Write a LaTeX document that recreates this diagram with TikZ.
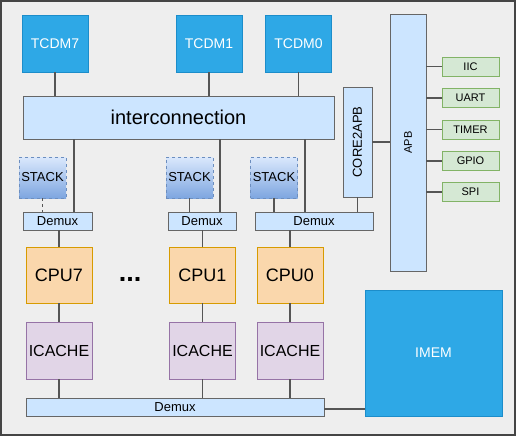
\documentclass[tikz,border=0pt]{standalone}
\usepackage{fontspec}
\setmainfont{Liberation Sans}
\usepackage{tikz}
\usetikzlibrary{calc}
\definecolor{bgray}{HTML}{EEEEEE}
\definecolor{frame}{HTML}{444444}
\definecolor{wire}{HTML}{555555}
\definecolor{memfill}{HTML}{2EA8E6}
\definecolor{memline}{HTML}{1C8DCA}
\definecolor{busfill}{HTML}{CCE5FF}
\definecolor{busline}{HTML}{666666}
\definecolor{cpufill}{HTML}{FAD7AC}
\definecolor{cpuline}{HTML}{D79B00}
\definecolor{icfill}{HTML}{E1D5E7}
\definecolor{icline}{HTML}{9673A6}
\definecolor{perfill}{HTML}{D5E8D4}
\definecolor{perline}{HTML}{82B366}
\definecolor{stktop}{HTML}{DAE8FC}
\definecolor{stkbot}{HTML}{7EA6E0}
\definecolor{stkline}{HTML}{6C8EBF}
\newcommand{\fsz}[1]{\fontsize{#1}{#1}\selectfont}

\begin{document}
\begin{tikzpicture}[x=1pt,y=-1pt,
    box/.style={draw,rectangle,inner sep=0pt,line width=0.8pt},
    mem/.style={box,fill=memfill,draw=memline,text=white,minimum width=66pt,minimum height=57pt,font=\fsz{14}},
    bus/.style={box,fill=busfill,draw=busline},
    demux/.style={bus,minimum height=18pt,font=\fsz{13}},
    stack/.style={box,top color=stktop,bottom color=stkbot,draw=stkline,dashed,minimum width=47pt,minimum height=41pt,font=\fsz{13}},
    cpu/.style={box,fill=cpufill,draw=cpuline,minimum width=66pt,minimum height=56pt,font=\fsz{18}},
    icache/.style={box,fill=icfill,draw=icline,minimum width=66pt,minimum height=57pt,font=\fsz{16}},
    periph/.style={box,fill=perfill,draw=perline,minimum width=57pt,minimum height=19pt,font=\fsz{11}},
    wire/.style={draw=wire,line width=1.1pt}]
  \useasboundingbox (0,0) rectangle (516,436);
  \draw[frame,fill=bgray,line width=1.2pt] (1,1) rectangle (515,435);

  % memories and interconnect
  \node[mem] (tcdm7) at (55,43.5) {TCDM7};
  \node[mem] (tcdm1) at (209,43.5) {TCDM1};
  \node[mem] (tcdm0) at (298.5,43.5) {TCDM0};
  \node[bus,minimum width=311pt,minimum height=43pt,font=\fsz{20}] (ic) at (178.5,117.5) {interconnection};

  % stacks and demuxes
  \node[stack] (stack7) at (42.5,177.5) {STACK};
  \node[stack] (stack1) at (189.5,177.5) {STACK};
  \node[stack] (stack0) at (274,177.5) {STACK};
  \node[demux,minimum width=69pt] (dmx7) at (57.5,221) {Demux};
  \node[demux,minimum width=68pt] (dmx1) at (202,221) {Demux};
  \node[demux,minimum width=118pt] (dmx0) at (314,221) {Demux};

  % apb side
  \node[bus,minimum width=29pt,minimum height=110pt,font=\fsz{13}] (c2apb) at (357.5,142) {\rotatebox{90}{CORE2APB}};
  \node[bus,minimum width=36pt,minimum height=257pt,font=\fsz{11}] (apb) at (408,142.5) {\rotatebox{90}{APB}};
  \node[periph] (iic) at (470.5,66.5) {IIC};
  \node[periph] (uart) at (470.5,98) {UART};
  \node[periph] (timer) at (470.5,129.5) {TIMER};
  \node[periph] (gpio) at (470.5,161) {GPIO};
  \node[periph] (spi) at (470.5,192) {SPI};

  % cores
  \node[cpu] (cpu7) at (59,275) {CPU7};
  \node[cpu] (cpu1) at (202.5,275) {CPU1};
  \node[cpu] (cpu0) at (290,275) {CPU0};
  \node[font=\fsz{27}\bfseries] (dots) at (130,279) {...};
  \node[icache] (icache7) at (59,350.5) {ICACHE};
  \node[icache] (icache1) at (202.5,350.5) {ICACHE};
  \node[icache] (icache0) at (290,350.5) {ICACHE};
  \node[demux,minimum width=298pt] (dmxi) at (175,407) {Demux};
  \node[mem,minimum width=137pt,minimum height=126pt] (imem) at (433.5,353) {IMEM};

  % wires
  \coordinate (p7) at ([xshift=16.5pt]dmx7.north);
  \coordinate (p1) at ([xshift=18pt]dmx1.north);
  \coordinate (p0) at ([xshift=-9pt]dmx0.north);
  \foreach \t in {tcdm7,tcdm1,tcdm0}
    \draw[wire] (\t.south) -- (\t.south |- ic.north);
  \foreach \p in {p7,p1,p0}
    \draw[wire] (\p) -- (\p |- ic.south);
  \draw[wire,dashed] (stack7.south) -- (stack7.south |- dmx7.north);
  \draw[wire] (stack1.south) -- (stack1.south |- dmx1.north);
  \draw[wire] (stack0.south) -- (stack0.south |- dmx0.north);
  \draw[wire] (c2apb.south) -- (c2apb.south |- dmx0.north);
  \draw[wire] (c2apb.east) -- (c2apb.east -| apb.west);
  \foreach \p in {iic,uart,timer,gpio,spi}
    \draw[wire] (\p.west -| apb.east) -- (\p.west);
  \draw[wire] (cpu7.north) -- (cpu7.north |- dmx7.south);
  \draw[wire] (cpu1.north) -- (cpu1.north |- dmx1.south);
  \draw[wire] (cpu0.north) -- (cpu0.north |- dmx0.south);
  \foreach \n in {7,1,0}{
    \draw[wire] (cpu\n.south) -- (icache\n.north);
    \draw[wire] (icache\n.south) -- (icache\n.south |- dmxi.north);
  }
  \draw[wire] ([yshift=-2pt]dmxi.east) -- ([yshift=-2pt]dmxi.east -| imem.west);
\end{tikzpicture}
\end{document}
